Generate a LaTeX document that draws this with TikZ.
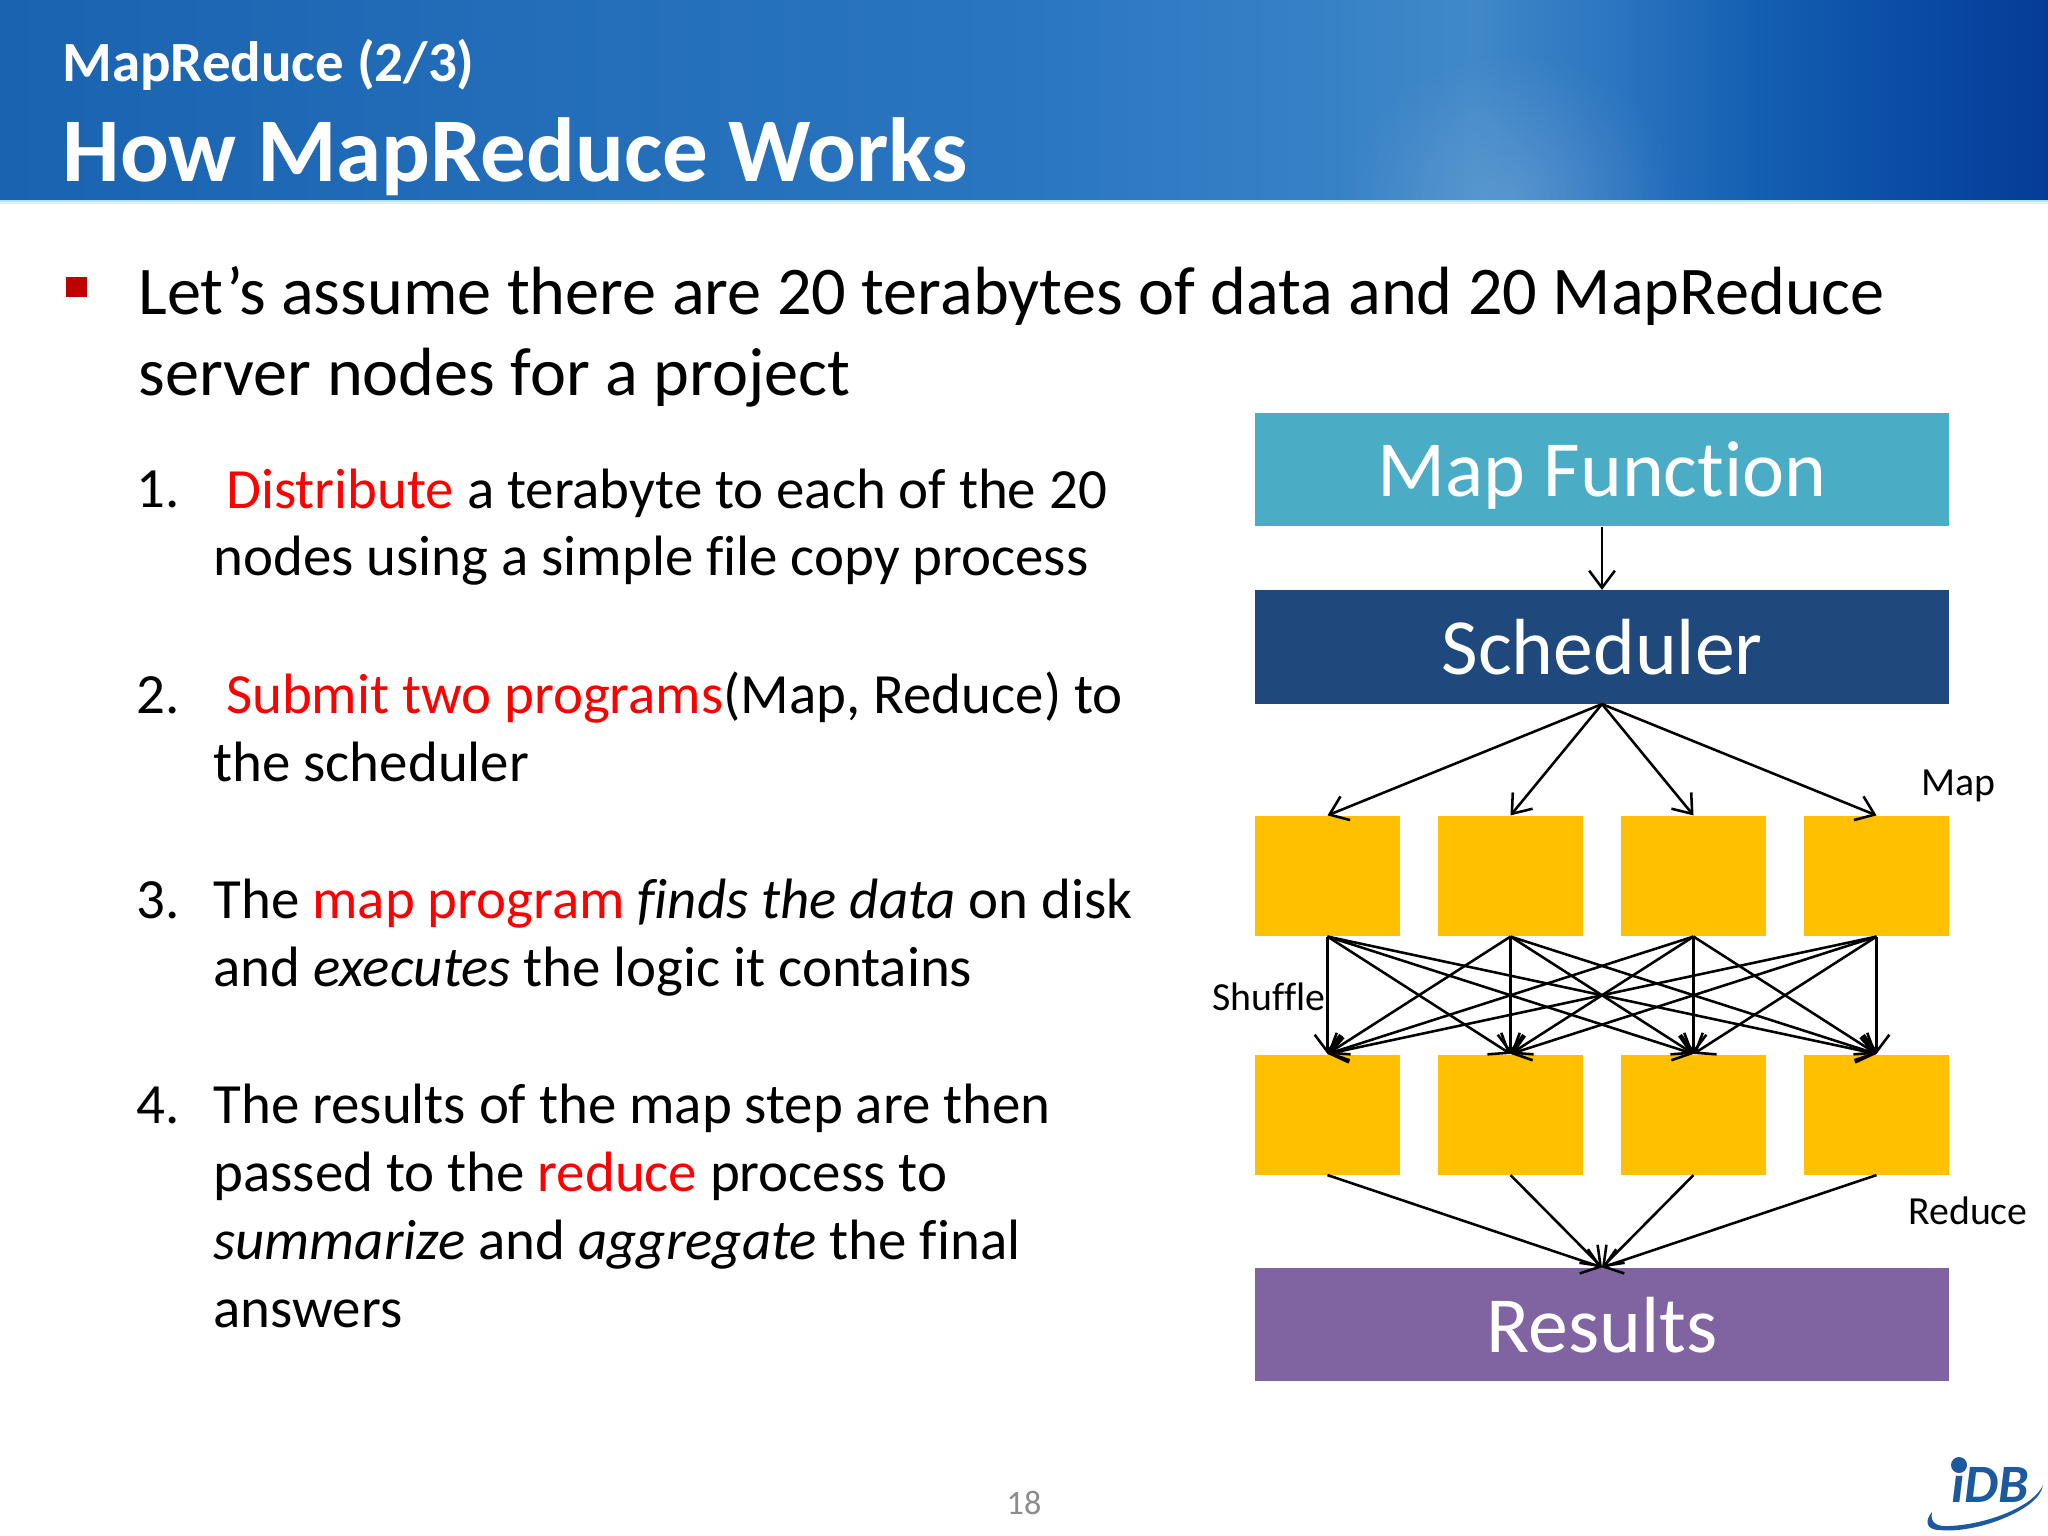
\documentclass[tikz,border=0pt]{standalone}
\usepackage{fontspec}
\setmainfont[Ligatures=NoCommon]{Carlito}
\usetikzlibrary{arrows.meta,fadings}

\definecolor{mapblue}{HTML}{4BACC6}
\definecolor{schedblue}{HTML}{1F497D}
\definecolor{boxyellow}{HTML}{FFC000}
\definecolor{respurple}{HTML}{8064A2}
\definecolor{logoblue}{HTML}{1C5AA0}
\definecolor{hdra}{HTML}{1A63B0}
\definecolor{hdrb}{HTML}{2A75C0}
\definecolor{hdrc}{HTML}{3580C6}
\definecolor{hdrd}{HTML}{4088C8}
\definecolor{hdre}{HTML}{2B74C0}
\definecolor{hdrf}{HTML}{1560B2}
\definecolor{hdrg}{HTML}{0A4CA6}
\definecolor{hdrh}{HTML}{053C98}

\pgfdeclarehorizontalshading{hdrshade}{100bp}{
  color(0bp)=(hdra); color(25bp)=(hdra); color(49.5bp)=(hdrb); color(56.75bp)=(hdrc); color(61bp)=(hdrd);
  color(64.5bp)=(hdre); color(67.75bp)=(hdrf); color(71.5bp)=(hdrg); color(75bp)=(hdrh); color(100bp)=(hdrh)}
\tikzfading[name=glowfade, inner color=transparent!85, outer color=transparent!100]

\tikzset{
  tile/.style={rectangle, inner sep=0pt, minimum width=50.98pt, minimum height=42.19pt, fill=boxyellow},
  wide/.style={rectangle, inner sep=0pt, minimum width=243.98pt, minimum height=39.73pt, text depth=0pt, text=white, font=\fontsize{28}{32}\selectfont},
  body/.style={anchor=base west, inner sep=0pt, align=left, font=\fontsize{20}{23.9}\selectfont},
  lead/.style={anchor=base west, inner sep=0pt, align=left, font=\fontsize{24}{28.8}\selectfont},
  tag/.style={inner sep=0pt, font=\fontsize{14}{16}\selectfont},
  conn/.style={-{Straight Barb[length=6pt,width=9pt]}, line width=0.9pt, black}
}
\newcommand{\hot}[1]{\textcolor{red}{#1}}

\begin{document}
\begin{tikzpicture}[x=0.3515625pt, y=-0.3515625pt]

\useasboundingbox (0, 0) rectangle (2048, 1536);
\fill[white] (0, 0) rectangle (2048, 1536);

% header band
\shade[shading=hdrshade] (0, 0) rectangle (2048, 200);
\begin{scope}
\clip (0, 0) rectangle (2048, 200);
\fill[white, path fading=glowfade] (1510, 200) ellipse (170 and 150);
\end{scope}
\fill[black!8] (0, 202) rectangle (2048, 204);
\fill[cyan!30!white] (0, 200) rectangle (2048, 202);

\node[anchor=base west, inner sep=0pt, text=white, font=\fontsize{20}{24}\selectfont\bfseries] (sub) at (62, 81.5) {MapReduce (2/3)};
\node[anchor=base west, inner sep=0pt, text=white, font=\fontsize{32}{36}\selectfont\bfseries] (title) at (62, 182) {How MapReduce Works};

% bullet
\node[rectangle, inner sep=0pt, minimum width=7.4pt, minimum height=7pt, fill=red!75!black] (sq) at (76.5, 287) {};
\node[lead] (intro) at (138, 396) {Let's assume there are 20 terabytes of data and 20 MapReduce\\server nodes for a project};

% the four steps
\node[body] (n1) at (136, 508) {1.};
\node[body] (s1) at (213, 576) {\hspace{4.4pt}\hot{Distribute} a terabyte to each of the 20\\nodes using a simple file copy process};
\node[body] (n2) at (136, 713) {2.};
\node[body] (s2) at (213, 781) {\hspace{4.4pt}\hot{Submit two programs}(Map, Reduce) to\\the scheduler};
\node[body] (n3) at (136, 918) {3.};
\node[body] (s3) at (213, 986) {The \hot{map program} \textit{finds the data} on disk\\and \textit{executes} the logic it contains};
\node[body] (n4) at (136, 1123) {4.};
\node[body] (s4) at (213, 1327) {The results of the map step are then\\passed to the \hot{reduce} process to\\\textit{summarize} and \textit{aggregate} the final\\answers};

% diagram
\node[wide, fill=mapblue] (mapf) at (1602, 469.5) {Map Function};
\node[wide, fill=schedblue] (sched) at (1602, 647) {Scheduler};

\node[tile] (a) at (1327.5, 876) {};
\node[tile] (b) at (1510.5, 876) {};
\node[tile] (c) at (1693.5, 876) {};
\node[tile] (d) at (1876.5, 876) {};

\node[tile] (e) at (1327.5, 1114.5) {};
\node[tile] (f) at (1510.5, 1114.5) {};
\node[tile] (g) at (1693.5, 1114.5) {};
\node[tile] (h) at (1876.5, 1114.5) {};

\node[wide, fill=respurple] (res) at (1602, 1324.5) {Results};

\node[tag] (maptag) at (1958, 786) {Map};
\node[tag] (shuf) at (1269, 997) {Shuffle};
\node[tag] (redtag) at (1968, 1211) {Reduce};

\draw[conn] (mapf) to (sched);

\draw[conn] (sched.south) to (a.north);
\draw[conn] (sched.south) to (b.north);
\draw[conn] (sched.south) to (c.north);
\draw[conn] (sched.south) to (d.north);

\draw[conn] (a.south) to (e.north);
\draw[conn] (a.south) to (f.north);
\draw[conn] (a.south) to (g.north);
\draw[conn] (a.south) to (h.north);
\draw[conn] (b.south) to (e.north);
\draw[conn] (b.south) to (f.north);
\draw[conn] (b.south) to (g.north);
\draw[conn] (b.south) to (h.north);
\draw[conn] (c.south) to (e.north);
\draw[conn] (c.south) to (f.north);
\draw[conn] (c.south) to (g.north);
\draw[conn] (c.south) to (h.north);
\draw[conn] (d.south) to (e.north);
\draw[conn] (d.south) to (f.north);
\draw[conn] (d.south) to (g.north);
\draw[conn] (d.south) to (h.north);

\draw[conn] (e.south) to (res.north);
\draw[conn] (f.south) to (res.north);
\draw[conn] (g.south) to (res.north);
\draw[conn] (h.south) to (res.north);

% page number and logo
\node[inner sep=0pt, text=black!45, font=\fontsize{12}{14}\selectfont] (page) at (1024, 1503) {18};

\fill[logoblue] (1959, 1465) circle (8);
\node[anchor=base, inner sep=0pt, text=logoblue, font=\fontsize{19}{22}\selectfont\bfseries\itshape] (logo) at (1990, 1502) {iDB};
\fill[logoblue] (2043, 1485) .. controls (2040, 1510) and (1975, 1534) .. (1940, 1530)
  .. controls (1925, 1530) and (1925, 1520) .. (1932, 1512)
  .. controls (1930, 1522) and (1935, 1527) .. (1950, 1526)
  .. controls (1990, 1524) and (2035, 1505) .. (2043, 1485);

\end{tikzpicture}
\end{document}
